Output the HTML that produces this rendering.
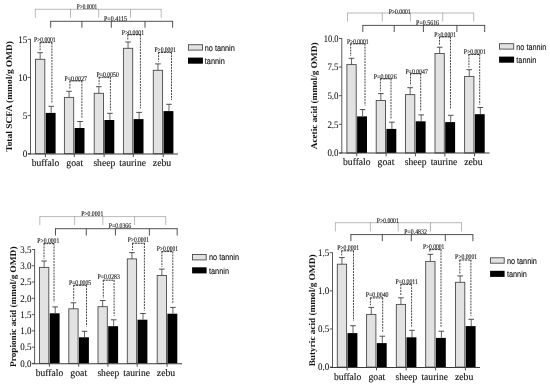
<!DOCTYPE html>
<html><head><meta charset="utf-8"><title>Figure</title>
<style>
html,body{margin:0;padding:0;background:#fff;}
body{width:550px;height:385px;overflow:hidden;}
svg{display:block;}
svg text{text-rendering:geometricPrecision;}
</style></head><body>
<svg width="550" height="385" viewBox="0 0 550 385">
<rect x="0" y="0" width="550" height="385" fill="#ffffff"/>
<line x1="35.30" y1="9.30" x2="161.20" y2="9.30" stroke="#8c8c8c" stroke-width="0.6" />
<line x1="35.30" y1="8.95" x2="35.30" y2="17.80" stroke="#8c8c8c" stroke-width="0.6" />
<line x1="70.50" y1="8.95" x2="70.50" y2="17.80" stroke="#8c8c8c" stroke-width="0.6" />
<line x1="98.70" y1="8.95" x2="98.70" y2="17.80" stroke="#8c8c8c" stroke-width="0.6" />
<line x1="130.50" y1="8.95" x2="130.50" y2="17.80" stroke="#8c8c8c" stroke-width="0.6" />
<line x1="161.20" y1="8.95" x2="161.20" y2="17.80" stroke="#8c8c8c" stroke-width="0.6" />
<line x1="50.25" y1="21.30" x2="173.05" y2="21.30" stroke="#333333" stroke-width="0.85" />
<line x1="50.70" y1="21.30" x2="50.70" y2="27.70" stroke="#333333" stroke-width="0.85" />
<line x1="81.90" y1="21.30" x2="81.90" y2="27.70" stroke="#333333" stroke-width="0.85" />
<line x1="111.30" y1="21.30" x2="111.30" y2="27.70" stroke="#333333" stroke-width="0.85" />
<line x1="145.00" y1="21.30" x2="145.00" y2="27.70" stroke="#333333" stroke-width="0.85" />
<line x1="172.60" y1="21.30" x2="172.60" y2="27.70" stroke="#333333" stroke-width="0.85" />
<text x="76.80" y="9.00" font-family='"Liberation Serif", serif' font-size="7.2" font-weight="normal" text-anchor="start" fill="#111" textLength="20.40" lengthAdjust="spacingAndGlyphs" stroke="#111" stroke-width="0.12">P&gt;0.0001</text>
<text x="104.00" y="20.50" font-family='"Liberation Serif", serif' font-size="7.2" font-weight="normal" text-anchor="start" fill="#111" textLength="22.90" lengthAdjust="spacingAndGlyphs" stroke="#111" stroke-width="0.12">P=0.4115</text>
<rect x="35.50" y="59.30" width="9.30" height="94.40" fill="#e2e2e2" stroke="#4a4a4a" stroke-width="0.9"/>
<line x1="40.15" y1="52.70" x2="40.15" y2="59.30" stroke="#3c3c3c" stroke-width="0.8" />
<line x1="37.35" y1="52.70" x2="42.95" y2="52.70" stroke="#3c3c3c" stroke-width="0.9" />
<rect x="45.70" y="112.90" width="9.90" height="40.80" fill="#000"/>
<line x1="51.20" y1="106.30" x2="51.20" y2="112.90" stroke="#3c3c3c" stroke-width="0.8" />
<line x1="48.40" y1="106.30" x2="54.00" y2="106.30" stroke="#3c3c3c" stroke-width="0.9" />
<line x1="40.10" y1="42.60" x2="40.10" y2="50.50" stroke="#3a3a3a" stroke-width="0.95" stroke-dasharray="1.9 1.0"/>
<line x1="51.90" y1="42.60" x2="51.90" y2="102.80" stroke="#3a3a3a" stroke-width="0.95" stroke-dasharray="1.9 1.0"/>
<line x1="39.70" y1="42.60" x2="52.30" y2="42.60" stroke="#2e2e2e" stroke-width="1.0" stroke-dasharray="2.1 0.7"/>
<text x="34.00" y="42.45" font-family='"Liberation Serif", serif' font-size="7.2" font-weight="normal" text-anchor="start" fill="#111" textLength="21.60" lengthAdjust="spacingAndGlyphs" stroke="#111" stroke-width="0.12">P&gt;0.0001</text>
<rect x="64.40" y="97.40" width="9.30" height="56.30" fill="#e2e2e2" stroke="#4a4a4a" stroke-width="0.9"/>
<line x1="69.05" y1="91.30" x2="69.05" y2="97.40" stroke="#3c3c3c" stroke-width="0.8" />
<line x1="66.25" y1="91.30" x2="71.85" y2="91.30" stroke="#3c3c3c" stroke-width="0.9" />
<rect x="74.60" y="128.00" width="9.90" height="25.70" fill="#000"/>
<line x1="80.10" y1="121.50" x2="80.10" y2="128.00" stroke="#3c3c3c" stroke-width="0.8" />
<line x1="77.30" y1="121.50" x2="82.90" y2="121.50" stroke="#3c3c3c" stroke-width="0.9" />
<line x1="69.90" y1="80.90" x2="69.90" y2="89.10" stroke="#3a3a3a" stroke-width="0.95" stroke-dasharray="1.9 1.0"/>
<line x1="81.90" y1="80.90" x2="81.90" y2="118.70" stroke="#3a3a3a" stroke-width="0.95" stroke-dasharray="1.9 1.0"/>
<line x1="69.50" y1="80.90" x2="82.30" y2="80.90" stroke="#2e2e2e" stroke-width="1.0" stroke-dasharray="2.1 0.7"/>
<text x="64.50" y="80.75" font-family='"Liberation Serif", serif' font-size="7.2" font-weight="normal" text-anchor="start" fill="#111" textLength="22.50" lengthAdjust="spacingAndGlyphs" stroke="#111" stroke-width="0.12">P=0.0027</text>
<rect x="94.20" y="93.30" width="9.30" height="60.40" fill="#e2e2e2" stroke="#4a4a4a" stroke-width="0.9"/>
<line x1="98.85" y1="86.70" x2="98.85" y2="93.30" stroke="#3c3c3c" stroke-width="0.8" />
<line x1="96.05" y1="86.70" x2="101.65" y2="86.70" stroke="#3c3c3c" stroke-width="0.9" />
<rect x="104.40" y="120.00" width="9.90" height="33.70" fill="#000"/>
<line x1="109.90" y1="113.30" x2="109.90" y2="120.00" stroke="#3c3c3c" stroke-width="0.8" />
<line x1="107.10" y1="113.30" x2="112.70" y2="113.30" stroke="#3c3c3c" stroke-width="0.9" />
<line x1="99.10" y1="77.30" x2="99.10" y2="84.50" stroke="#3a3a3a" stroke-width="0.95" stroke-dasharray="1.9 1.0"/>
<line x1="110.40" y1="77.30" x2="110.40" y2="110.50" stroke="#3a3a3a" stroke-width="0.95" stroke-dasharray="1.9 1.0"/>
<line x1="98.70" y1="77.30" x2="110.80" y2="77.30" stroke="#2e2e2e" stroke-width="1.0" stroke-dasharray="2.1 0.7"/>
<text x="96.50" y="77.15" font-family='"Liberation Serif", serif' font-size="7.2" font-weight="normal" text-anchor="start" fill="#111" textLength="22.30" lengthAdjust="spacingAndGlyphs" stroke="#111" stroke-width="0.12">P=0.0050</text>
<rect x="123.40" y="48.30" width="9.30" height="105.40" fill="#e2e2e2" stroke="#4a4a4a" stroke-width="0.9"/>
<line x1="128.05" y1="42.00" x2="128.05" y2="48.30" stroke="#3c3c3c" stroke-width="0.8" />
<line x1="125.25" y1="42.00" x2="130.85" y2="42.00" stroke="#3c3c3c" stroke-width="0.9" />
<rect x="133.60" y="119.10" width="9.90" height="34.60" fill="#000"/>
<line x1="139.10" y1="112.40" x2="139.10" y2="119.10" stroke="#3c3c3c" stroke-width="0.8" />
<line x1="136.30" y1="112.40" x2="141.90" y2="112.40" stroke="#3c3c3c" stroke-width="0.9" />
<line x1="127.80" y1="34.70" x2="127.80" y2="39.80" stroke="#3a3a3a" stroke-width="0.95" stroke-dasharray="1.9 1.0"/>
<line x1="140.40" y1="34.70" x2="140.40" y2="108.50" stroke="#3a3a3a" stroke-width="0.95" stroke-dasharray="1.9 1.0"/>
<line x1="127.40" y1="34.70" x2="140.80" y2="34.70" stroke="#2e2e2e" stroke-width="1.0" stroke-dasharray="2.1 0.7"/>
<text x="121.80" y="34.55" font-family='"Liberation Serif", serif' font-size="7.2" font-weight="normal" text-anchor="start" fill="#111" textLength="22.30" lengthAdjust="spacingAndGlyphs" stroke="#111" stroke-width="0.12">P&gt;0.0001</text>
<rect x="153.30" y="70.30" width="9.30" height="83.40" fill="#e2e2e2" stroke="#4a4a4a" stroke-width="0.9"/>
<line x1="157.95" y1="63.90" x2="157.95" y2="70.30" stroke="#3c3c3c" stroke-width="0.8" />
<line x1="155.15" y1="63.90" x2="160.75" y2="63.90" stroke="#3c3c3c" stroke-width="0.9" />
<rect x="163.50" y="111.10" width="9.90" height="42.60" fill="#000"/>
<line x1="169.00" y1="104.30" x2="169.00" y2="111.10" stroke="#3c3c3c" stroke-width="0.8" />
<line x1="166.20" y1="104.30" x2="171.80" y2="104.30" stroke="#3c3c3c" stroke-width="0.9" />
<line x1="158.60" y1="52.40" x2="158.60" y2="61.70" stroke="#3a3a3a" stroke-width="0.95" stroke-dasharray="1.9 1.0"/>
<line x1="171.50" y1="52.40" x2="171.50" y2="100.00" stroke="#3a3a3a" stroke-width="0.95" stroke-dasharray="1.9 1.0"/>
<line x1="158.20" y1="52.40" x2="171.90" y2="52.40" stroke="#2e2e2e" stroke-width="1.0" stroke-dasharray="2.1 0.7"/>
<text x="154.40" y="52.25" font-family='"Liberation Serif", serif' font-size="7.2" font-weight="normal" text-anchor="start" fill="#111" textLength="21.60" lengthAdjust="spacingAndGlyphs" stroke="#111" stroke-width="0.12">P&gt;0.0001</text>
<line x1="30.50" y1="38.90" x2="30.50" y2="154.10" stroke="#3c3c3c" stroke-width="0.85" />
<line x1="28.10" y1="153.90" x2="178.00" y2="153.90" stroke="#3c3c3c" stroke-width="1.05" />
<line x1="27.70" y1="39.30" x2="30.50" y2="39.30" stroke="#3c3c3c" stroke-width="0.85" />
<text x="27.30" y="42.60" font-family='"Liberation Serif", serif' font-size="10" font-weight="normal" text-anchor="end" fill="#111" textLength="9.00" lengthAdjust="spacingAndGlyphs" stroke="#111" stroke-width="0.06">15</text>
<line x1="27.70" y1="77.43" x2="30.50" y2="77.43" stroke="#3c3c3c" stroke-width="0.85" />
<text x="27.30" y="80.73" font-family='"Liberation Serif", serif' font-size="10" font-weight="normal" text-anchor="end" fill="#111" textLength="9.00" lengthAdjust="spacingAndGlyphs" stroke="#111" stroke-width="0.06">10</text>
<line x1="27.70" y1="115.57" x2="30.50" y2="115.57" stroke="#3c3c3c" stroke-width="0.85" />
<text x="27.30" y="118.87" font-family='"Liberation Serif", serif' font-size="10" font-weight="normal" text-anchor="end" fill="#111" textLength="4.60" lengthAdjust="spacingAndGlyphs" stroke="#111" stroke-width="0.06">5</text>
<line x1="27.70" y1="153.70" x2="30.50" y2="153.70" stroke="#3c3c3c" stroke-width="0.85" />
<text x="27.30" y="157.00" font-family='"Liberation Serif", serif' font-size="10" font-weight="normal" text-anchor="end" fill="#111" textLength="4.60" lengthAdjust="spacingAndGlyphs" stroke="#111" stroke-width="0.06">0</text>
<line x1="45.40" y1="153.70" x2="45.40" y2="157.00" stroke="#3c3c3c" stroke-width="0.9" />
<text x="45.50" y="166.10" font-family='"Liberation Serif", serif' font-size="10.0" font-weight="normal" text-anchor="middle" fill="#111" textLength="27.40" lengthAdjust="spacingAndGlyphs" stroke="#111" stroke-width="0.12">buffalo</text>
<line x1="74.30" y1="153.70" x2="74.30" y2="157.00" stroke="#3c3c3c" stroke-width="0.9" />
<text x="74.70" y="166.10" font-family='"Liberation Serif", serif' font-size="10.0" font-weight="normal" text-anchor="middle" fill="#111" textLength="16.80" lengthAdjust="spacingAndGlyphs" stroke="#111" stroke-width="0.12">goat</text>
<line x1="104.10" y1="153.70" x2="104.10" y2="157.00" stroke="#3c3c3c" stroke-width="0.9" />
<text x="104.30" y="166.10" font-family='"Liberation Serif", serif' font-size="10.0" font-weight="normal" text-anchor="middle" fill="#111" textLength="21.80" lengthAdjust="spacingAndGlyphs" stroke="#111" stroke-width="0.12">sheep</text>
<line x1="133.30" y1="153.70" x2="133.30" y2="157.00" stroke="#3c3c3c" stroke-width="0.9" />
<text x="132.65" y="166.10" font-family='"Liberation Serif", serif' font-size="10.0" font-weight="normal" text-anchor="middle" fill="#111" textLength="26.60" lengthAdjust="spacingAndGlyphs" stroke="#111" stroke-width="0.12">taurine</text>
<line x1="163.20" y1="153.70" x2="163.20" y2="157.00" stroke="#3c3c3c" stroke-width="0.9" />
<text x="162.05" y="166.10" font-family='"Liberation Serif", serif' font-size="10.0" font-weight="normal" text-anchor="middle" fill="#111" textLength="18.40" lengthAdjust="spacingAndGlyphs" stroke="#111" stroke-width="0.12">zebu</text>
<text transform="translate(12.10 151.80) rotate(-90) scale(1 0.88)" x="0" y="0" font-family='"Liberation Serif", serif' font-size="10" font-weight="bold" fill="#111" textLength="82.50" lengthAdjust="spacingAndGlyphs">Total SCFA (mmol/g</text>
<text transform="translate(12.10 67.30) rotate(-90) scale(1 0.88)" x="0" y="0" font-family='"Liberation Serif", serif' font-size="10" font-weight="bold" fill="#111" textLength="26.3" lengthAdjust="spacingAndGlyphs">OMD)</text>
<rect x="188.40" y="44.70" width="14.10" height="5.40" fill="#e2e2e2" stroke="#4a4a4a" stroke-width="0.9"/>
<rect x="188.00" y="57.60" width="14.90" height="6.10" fill="#000"/>
<text x="204.80" y="50.60" font-family='"Liberation Sans", sans-serif' font-size="8.7" font-weight="normal" text-anchor="start" fill="#111" textLength="30.00" lengthAdjust="spacingAndGlyphs" stroke="#111" stroke-width="0.12">no tannin</text>
<text x="204.80" y="63.90" font-family='"Liberation Sans", sans-serif' font-size="8.7" font-weight="normal" text-anchor="start" fill="#111" textLength="20.00" lengthAdjust="spacingAndGlyphs" stroke="#111" stroke-width="0.12">tannin</text>
<line x1="347.50" y1="13.00" x2="473.70" y2="13.00" stroke="#8c8c8c" stroke-width="0.6" />
<line x1="347.50" y1="12.65" x2="347.50" y2="21.60" stroke="#8c8c8c" stroke-width="0.6" />
<line x1="382.30" y1="12.65" x2="382.30" y2="21.60" stroke="#8c8c8c" stroke-width="0.6" />
<line x1="410.50" y1="12.65" x2="410.50" y2="21.60" stroke="#8c8c8c" stroke-width="0.6" />
<line x1="442.70" y1="12.65" x2="442.70" y2="21.60" stroke="#8c8c8c" stroke-width="0.6" />
<line x1="473.70" y1="12.65" x2="473.70" y2="21.60" stroke="#8c8c8c" stroke-width="0.6" />
<line x1="362.35" y1="25.40" x2="485.15" y2="25.40" stroke="#333333" stroke-width="0.85" />
<line x1="362.80" y1="25.40" x2="362.80" y2="32.00" stroke="#333333" stroke-width="0.85" />
<line x1="394.20" y1="25.40" x2="394.20" y2="32.00" stroke="#333333" stroke-width="0.85" />
<line x1="423.40" y1="25.40" x2="423.40" y2="32.00" stroke="#333333" stroke-width="0.85" />
<line x1="456.90" y1="25.40" x2="456.90" y2="32.00" stroke="#333333" stroke-width="0.85" />
<line x1="484.70" y1="25.40" x2="484.70" y2="32.00" stroke="#333333" stroke-width="0.85" />
<text x="388.70" y="13.90" font-family='"Liberation Serif", serif' font-size="7.2" font-weight="normal" text-anchor="start" fill="#111" textLength="22.00" lengthAdjust="spacingAndGlyphs" stroke="#111" stroke-width="0.12">P&gt;0.0001</text>
<text x="416.10" y="24.90" font-family='"Liberation Serif", serif' font-size="7.2" font-weight="normal" text-anchor="start" fill="#111" textLength="23.00" lengthAdjust="spacingAndGlyphs" stroke="#111" stroke-width="0.12">P=0.5616</text>
<rect x="346.90" y="64.60" width="9.30" height="88.40" fill="#e2e2e2" stroke="#4a4a4a" stroke-width="0.9"/>
<line x1="351.55" y1="58.30" x2="351.55" y2="64.60" stroke="#3c3c3c" stroke-width="0.8" />
<line x1="348.75" y1="58.30" x2="354.35" y2="58.30" stroke="#3c3c3c" stroke-width="0.9" />
<rect x="357.10" y="116.40" width="9.90" height="36.60" fill="#000"/>
<line x1="362.60" y1="109.60" x2="362.60" y2="116.40" stroke="#3c3c3c" stroke-width="0.8" />
<line x1="359.80" y1="109.60" x2="365.40" y2="109.60" stroke="#3c3c3c" stroke-width="0.9" />
<line x1="350.70" y1="43.80" x2="350.70" y2="56.10" stroke="#3a3a3a" stroke-width="0.95" stroke-dasharray="1.9 1.0"/>
<line x1="365.00" y1="43.80" x2="365.00" y2="105.50" stroke="#3a3a3a" stroke-width="0.95" stroke-dasharray="1.9 1.0"/>
<line x1="350.30" y1="43.80" x2="365.40" y2="43.80" stroke="#2e2e2e" stroke-width="1.0" stroke-dasharray="2.1 0.7"/>
<text x="346.90" y="43.65" font-family='"Liberation Serif", serif' font-size="7.2" font-weight="normal" text-anchor="start" fill="#111" textLength="21.60" lengthAdjust="spacingAndGlyphs" stroke="#111" stroke-width="0.12">P&gt;0.0001</text>
<rect x="376.20" y="100.50" width="9.30" height="52.50" fill="#e2e2e2" stroke="#4a4a4a" stroke-width="0.9"/>
<line x1="380.85" y1="93.60" x2="380.85" y2="100.50" stroke="#3c3c3c" stroke-width="0.8" />
<line x1="378.05" y1="93.60" x2="383.65" y2="93.60" stroke="#3c3c3c" stroke-width="0.9" />
<rect x="386.40" y="128.90" width="9.90" height="24.10" fill="#000"/>
<line x1="391.90" y1="122.20" x2="391.90" y2="128.90" stroke="#3c3c3c" stroke-width="0.8" />
<line x1="389.10" y1="122.20" x2="394.70" y2="122.20" stroke="#3c3c3c" stroke-width="0.9" />
<line x1="380.40" y1="78.80" x2="380.40" y2="91.40" stroke="#3a3a3a" stroke-width="0.95" stroke-dasharray="1.9 1.0"/>
<line x1="391.00" y1="78.80" x2="391.00" y2="119.00" stroke="#3a3a3a" stroke-width="0.95" stroke-dasharray="1.9 1.0"/>
<line x1="380.00" y1="78.80" x2="391.40" y2="78.80" stroke="#2e2e2e" stroke-width="1.0" stroke-dasharray="2.1 0.7"/>
<text x="373.80" y="78.65" font-family='"Liberation Serif", serif' font-size="7.2" font-weight="normal" text-anchor="start" fill="#111" textLength="22.90" lengthAdjust="spacingAndGlyphs" stroke="#111" stroke-width="0.12">P=0.0026</text>
<rect x="405.50" y="94.60" width="9.30" height="58.40" fill="#e2e2e2" stroke="#4a4a4a" stroke-width="0.9"/>
<line x1="410.15" y1="87.70" x2="410.15" y2="94.60" stroke="#3c3c3c" stroke-width="0.8" />
<line x1="407.35" y1="87.70" x2="412.95" y2="87.70" stroke="#3c3c3c" stroke-width="0.9" />
<rect x="415.70" y="121.30" width="9.90" height="31.70" fill="#000"/>
<line x1="421.20" y1="114.90" x2="421.20" y2="121.30" stroke="#3c3c3c" stroke-width="0.8" />
<line x1="418.40" y1="114.90" x2="424.00" y2="114.90" stroke="#3c3c3c" stroke-width="0.9" />
<line x1="410.50" y1="73.70" x2="410.50" y2="85.50" stroke="#3a3a3a" stroke-width="0.95" stroke-dasharray="1.9 1.0"/>
<line x1="420.70" y1="73.70" x2="420.70" y2="111.50" stroke="#3a3a3a" stroke-width="0.95" stroke-dasharray="1.9 1.0"/>
<line x1="410.10" y1="73.70" x2="421.10" y2="73.70" stroke="#2e2e2e" stroke-width="1.0" stroke-dasharray="2.1 0.7"/>
<text x="405.40" y="73.55" font-family='"Liberation Serif", serif' font-size="7.2" font-weight="normal" text-anchor="start" fill="#111" textLength="22.50" lengthAdjust="spacingAndGlyphs" stroke="#111" stroke-width="0.12">P=0.0047</text>
<rect x="435.00" y="53.50" width="9.30" height="99.50" fill="#e2e2e2" stroke="#4a4a4a" stroke-width="0.9"/>
<line x1="439.65" y1="47.20" x2="439.65" y2="53.50" stroke="#3c3c3c" stroke-width="0.8" />
<line x1="436.85" y1="47.20" x2="442.45" y2="47.20" stroke="#3c3c3c" stroke-width="0.9" />
<rect x="445.20" y="122.10" width="9.90" height="30.90" fill="#000"/>
<line x1="450.70" y1="115.30" x2="450.70" y2="122.10" stroke="#3c3c3c" stroke-width="0.8" />
<line x1="447.90" y1="115.30" x2="453.50" y2="115.30" stroke="#3c3c3c" stroke-width="0.9" />
<line x1="439.50" y1="36.90" x2="439.50" y2="45.00" stroke="#3a3a3a" stroke-width="0.95" stroke-dasharray="1.9 1.0"/>
<line x1="450.50" y1="36.90" x2="450.50" y2="108.70" stroke="#3a3a3a" stroke-width="0.95" stroke-dasharray="1.9 1.0"/>
<line x1="439.10" y1="36.90" x2="450.90" y2="36.90" stroke="#2e2e2e" stroke-width="1.0" stroke-dasharray="2.1 0.7"/>
<text x="434.20" y="36.75" font-family='"Liberation Serif", serif' font-size="7.2" font-weight="normal" text-anchor="start" fill="#111" textLength="21.60" lengthAdjust="spacingAndGlyphs" stroke="#111" stroke-width="0.12">P&gt;0.0001</text>
<rect x="464.60" y="76.40" width="9.30" height="76.60" fill="#e2e2e2" stroke="#4a4a4a" stroke-width="0.9"/>
<line x1="469.25" y1="69.70" x2="469.25" y2="76.40" stroke="#3c3c3c" stroke-width="0.8" />
<line x1="466.45" y1="69.70" x2="472.05" y2="69.70" stroke="#3c3c3c" stroke-width="0.9" />
<rect x="474.80" y="114.20" width="9.90" height="38.80" fill="#000"/>
<line x1="480.30" y1="107.50" x2="480.30" y2="114.20" stroke="#3c3c3c" stroke-width="0.8" />
<line x1="477.50" y1="107.50" x2="483.10" y2="107.50" stroke="#3c3c3c" stroke-width="0.9" />
<line x1="468.90" y1="54.50" x2="468.90" y2="67.50" stroke="#3a3a3a" stroke-width="0.95" stroke-dasharray="1.9 1.0"/>
<line x1="479.70" y1="54.50" x2="479.70" y2="104.50" stroke="#3a3a3a" stroke-width="0.95" stroke-dasharray="1.9 1.0"/>
<line x1="468.50" y1="54.50" x2="480.10" y2="54.50" stroke="#2e2e2e" stroke-width="1.0" stroke-dasharray="2.1 0.7"/>
<text x="463.80" y="54.35" font-family='"Liberation Serif", serif' font-size="7.2" font-weight="normal" text-anchor="start" fill="#111" textLength="22.00" lengthAdjust="spacingAndGlyphs" stroke="#111" stroke-width="0.12">P&gt;0.0001</text>
<line x1="341.80" y1="38.00" x2="341.80" y2="153.40" stroke="#3c3c3c" stroke-width="0.85" />
<line x1="339.40" y1="152.90" x2="489.60" y2="152.90" stroke="#3c3c3c" stroke-width="1.05" />
<line x1="339.00" y1="38.40" x2="341.80" y2="38.40" stroke="#3c3c3c" stroke-width="0.85" />
<text x="338.60" y="41.70" font-family='"Liberation Serif", serif' font-size="10" font-weight="normal" text-anchor="end" fill="#111" textLength="14.80" lengthAdjust="spacingAndGlyphs" stroke="#111" stroke-width="0.06">10.0</text>
<line x1="339.00" y1="67.05" x2="341.80" y2="67.05" stroke="#3c3c3c" stroke-width="0.85" />
<text x="338.60" y="70.35" font-family='"Liberation Serif", serif' font-size="10" font-weight="normal" text-anchor="end" fill="#111" textLength="11.20" lengthAdjust="spacingAndGlyphs" stroke="#111" stroke-width="0.06">7.5</text>
<line x1="339.00" y1="95.70" x2="341.80" y2="95.70" stroke="#3c3c3c" stroke-width="0.85" />
<text x="338.60" y="99.00" font-family='"Liberation Serif", serif' font-size="10" font-weight="normal" text-anchor="end" fill="#111" textLength="11.20" lengthAdjust="spacingAndGlyphs" stroke="#111" stroke-width="0.06">5.0</text>
<line x1="339.00" y1="124.35" x2="341.80" y2="124.35" stroke="#3c3c3c" stroke-width="0.85" />
<text x="338.60" y="127.65" font-family='"Liberation Serif", serif' font-size="10" font-weight="normal" text-anchor="end" fill="#111" textLength="11.20" lengthAdjust="spacingAndGlyphs" stroke="#111" stroke-width="0.06">2.5</text>
<line x1="339.00" y1="153.00" x2="341.80" y2="153.00" stroke="#3c3c3c" stroke-width="0.85" />
<text x="338.60" y="156.30" font-family='"Liberation Serif", serif' font-size="10" font-weight="normal" text-anchor="end" fill="#111" textLength="11.20" lengthAdjust="spacingAndGlyphs" stroke="#111" stroke-width="0.06">0.0</text>
<line x1="356.80" y1="153.00" x2="356.80" y2="156.30" stroke="#3c3c3c" stroke-width="0.9" />
<text x="356.80" y="164.80" font-family='"Liberation Serif", serif' font-size="10.0" font-weight="normal" text-anchor="middle" fill="#111" textLength="27.40" lengthAdjust="spacingAndGlyphs" stroke="#111" stroke-width="0.12">buffalo</text>
<line x1="386.10" y1="153.00" x2="386.10" y2="156.30" stroke="#3c3c3c" stroke-width="0.9" />
<text x="386.00" y="164.80" font-family='"Liberation Serif", serif' font-size="10.0" font-weight="normal" text-anchor="middle" fill="#111" textLength="16.80" lengthAdjust="spacingAndGlyphs" stroke="#111" stroke-width="0.12">goat</text>
<line x1="415.40" y1="153.00" x2="415.40" y2="156.30" stroke="#3c3c3c" stroke-width="0.9" />
<text x="415.60" y="164.80" font-family='"Liberation Serif", serif' font-size="10.0" font-weight="normal" text-anchor="middle" fill="#111" textLength="21.80" lengthAdjust="spacingAndGlyphs" stroke="#111" stroke-width="0.12">sheep</text>
<line x1="444.90" y1="153.00" x2="444.90" y2="156.30" stroke="#3c3c3c" stroke-width="0.9" />
<text x="443.95" y="164.80" font-family='"Liberation Serif", serif' font-size="10.0" font-weight="normal" text-anchor="middle" fill="#111" textLength="26.60" lengthAdjust="spacingAndGlyphs" stroke="#111" stroke-width="0.12">taurine</text>
<line x1="474.50" y1="153.00" x2="474.50" y2="156.30" stroke="#3c3c3c" stroke-width="0.9" />
<text x="473.35" y="164.80" font-family='"Liberation Serif", serif' font-size="10.0" font-weight="normal" text-anchor="middle" fill="#111" textLength="18.40" lengthAdjust="spacingAndGlyphs" stroke="#111" stroke-width="0.12">zebu</text>
<text transform="translate(317.20 149.30) rotate(-90) scale(1 0.88)" x="0" y="0" font-family='"Liberation Serif", serif' font-size="10" font-weight="bold" fill="#111" textLength="78.70" lengthAdjust="spacingAndGlyphs">Acetic acid (mmol/g</text>
<text transform="translate(317.20 68.60) rotate(-90) scale(1 0.88)" x="0" y="0" font-family='"Liberation Serif", serif' font-size="10" font-weight="bold" fill="#111" textLength="26.3" lengthAdjust="spacingAndGlyphs">OMD)</text>
<rect x="499.50" y="43.70" width="14.20" height="5.40" fill="#e2e2e2" stroke="#4a4a4a" stroke-width="0.9"/>
<rect x="499.10" y="56.60" width="15.00" height="6.10" fill="#000"/>
<text x="516.30" y="49.60" font-family='"Liberation Sans", sans-serif' font-size="8.7" font-weight="normal" text-anchor="start" fill="#111" textLength="30.00" lengthAdjust="spacingAndGlyphs" stroke="#111" stroke-width="0.12">no tannin</text>
<text x="516.30" y="62.90" font-family='"Liberation Sans", sans-serif' font-size="8.7" font-weight="normal" text-anchor="start" fill="#111" textLength="20.00" lengthAdjust="spacingAndGlyphs" stroke="#111" stroke-width="0.12">tannin</text>
<line x1="39.80" y1="216.60" x2="165.70" y2="216.60" stroke="#8c8c8c" stroke-width="0.6" />
<line x1="39.80" y1="216.25" x2="39.80" y2="225.10" stroke="#8c8c8c" stroke-width="0.6" />
<line x1="74.60" y1="216.25" x2="74.60" y2="225.10" stroke="#8c8c8c" stroke-width="0.6" />
<line x1="102.80" y1="216.25" x2="102.80" y2="225.10" stroke="#8c8c8c" stroke-width="0.6" />
<line x1="134.60" y1="216.25" x2="134.60" y2="225.10" stroke="#8c8c8c" stroke-width="0.6" />
<line x1="165.70" y1="216.25" x2="165.70" y2="225.10" stroke="#8c8c8c" stroke-width="0.6" />
<line x1="55.05" y1="228.70" x2="177.65" y2="228.70" stroke="#333333" stroke-width="0.85" />
<line x1="55.50" y1="228.70" x2="55.50" y2="235.50" stroke="#333333" stroke-width="0.85" />
<line x1="86.30" y1="228.70" x2="86.30" y2="235.50" stroke="#333333" stroke-width="0.85" />
<line x1="115.40" y1="228.70" x2="115.40" y2="235.50" stroke="#333333" stroke-width="0.85" />
<line x1="149.40" y1="228.70" x2="149.40" y2="235.50" stroke="#333333" stroke-width="0.85" />
<line x1="177.20" y1="228.70" x2="177.20" y2="235.50" stroke="#333333" stroke-width="0.85" />
<text x="81.20" y="216.30" font-family='"Liberation Serif", serif' font-size="7.2" font-weight="normal" text-anchor="start" fill="#111" textLength="22.10" lengthAdjust="spacingAndGlyphs" stroke="#111" stroke-width="0.12">P&gt;0.0001</text>
<text x="108.80" y="228.30" font-family='"Liberation Serif", serif' font-size="7.2" font-weight="normal" text-anchor="start" fill="#111" textLength="22.30" lengthAdjust="spacingAndGlyphs" stroke="#111" stroke-width="0.12">P=0.0366</text>
<rect x="39.50" y="267.40" width="9.30" height="96.00" fill="#e2e2e2" stroke="#4a4a4a" stroke-width="0.9"/>
<line x1="44.15" y1="261.00" x2="44.15" y2="267.40" stroke="#3c3c3c" stroke-width="0.8" />
<line x1="41.35" y1="261.00" x2="46.95" y2="261.00" stroke="#3c3c3c" stroke-width="0.9" />
<rect x="49.70" y="313.30" width="9.90" height="50.10" fill="#000"/>
<line x1="55.20" y1="306.90" x2="55.20" y2="313.30" stroke="#3c3c3c" stroke-width="0.8" />
<line x1="52.40" y1="306.90" x2="58.00" y2="306.90" stroke="#3c3c3c" stroke-width="0.9" />
<line x1="44.00" y1="243.60" x2="44.00" y2="258.80" stroke="#3a3a3a" stroke-width="0.95" stroke-dasharray="1.9 1.0"/>
<line x1="54.00" y1="243.60" x2="54.00" y2="302.20" stroke="#3a3a3a" stroke-width="0.95" stroke-dasharray="1.9 1.0"/>
<line x1="43.60" y1="243.60" x2="54.40" y2="243.60" stroke="#2e2e2e" stroke-width="1.0" stroke-dasharray="2.1 0.7"/>
<text x="37.30" y="242.80" font-family='"Liberation Serif", serif' font-size="7.2" font-weight="normal" text-anchor="start" fill="#111" textLength="22.00" lengthAdjust="spacingAndGlyphs" stroke="#111" stroke-width="0.12">P&gt;0.0001</text>
<rect x="68.80" y="308.80" width="9.30" height="54.60" fill="#e2e2e2" stroke="#4a4a4a" stroke-width="0.9"/>
<line x1="73.45" y1="302.80" x2="73.45" y2="308.80" stroke="#3c3c3c" stroke-width="0.8" />
<line x1="70.65" y1="302.80" x2="76.25" y2="302.80" stroke="#3c3c3c" stroke-width="0.9" />
<rect x="79.00" y="337.30" width="9.90" height="26.10" fill="#000"/>
<line x1="84.50" y1="331.30" x2="84.50" y2="337.30" stroke="#3c3c3c" stroke-width="0.8" />
<line x1="81.70" y1="331.30" x2="87.30" y2="331.30" stroke="#3c3c3c" stroke-width="0.9" />
<line x1="73.70" y1="285.30" x2="73.70" y2="300.60" stroke="#3a3a3a" stroke-width="0.95" stroke-dasharray="1.9 1.0"/>
<line x1="86.50" y1="285.30" x2="86.50" y2="326.50" stroke="#3a3a3a" stroke-width="0.95" stroke-dasharray="1.9 1.0"/>
<line x1="73.30" y1="285.30" x2="86.90" y2="285.30" stroke="#2e2e2e" stroke-width="1.0" stroke-dasharray="2.1 0.7"/>
<text x="68.90" y="284.50" font-family='"Liberation Serif", serif' font-size="7.2" font-weight="normal" text-anchor="start" fill="#111" textLength="22.30" lengthAdjust="spacingAndGlyphs" stroke="#111" stroke-width="0.12">P=0.0005</text>
<rect x="98.00" y="306.70" width="9.30" height="56.70" fill="#e2e2e2" stroke="#4a4a4a" stroke-width="0.9"/>
<line x1="102.65" y1="300.50" x2="102.65" y2="306.70" stroke="#3c3c3c" stroke-width="0.8" />
<line x1="99.85" y1="300.50" x2="105.45" y2="300.50" stroke="#3c3c3c" stroke-width="0.9" />
<rect x="108.20" y="326.20" width="9.90" height="37.20" fill="#000"/>
<line x1="113.70" y1="319.80" x2="113.70" y2="326.20" stroke="#3c3c3c" stroke-width="0.8" />
<line x1="110.90" y1="319.80" x2="116.50" y2="319.80" stroke="#3c3c3c" stroke-width="0.9" />
<line x1="103.30" y1="280.20" x2="103.30" y2="298.30" stroke="#3a3a3a" stroke-width="0.95" stroke-dasharray="1.9 1.0"/>
<line x1="114.10" y1="280.20" x2="114.10" y2="315.80" stroke="#3a3a3a" stroke-width="0.95" stroke-dasharray="1.9 1.0"/>
<line x1="102.90" y1="280.20" x2="114.50" y2="280.20" stroke="#2e2e2e" stroke-width="1.0" stroke-dasharray="2.1 0.7"/>
<text x="97.50" y="279.40" font-family='"Liberation Serif", serif' font-size="7.2" font-weight="normal" text-anchor="start" fill="#111" textLength="22.30" lengthAdjust="spacingAndGlyphs" stroke="#111" stroke-width="0.12">P=0.0283</text>
<rect x="127.30" y="258.90" width="9.30" height="104.50" fill="#e2e2e2" stroke="#4a4a4a" stroke-width="0.9"/>
<line x1="131.95" y1="252.60" x2="131.95" y2="258.90" stroke="#3c3c3c" stroke-width="0.8" />
<line x1="129.15" y1="252.60" x2="134.75" y2="252.60" stroke="#3c3c3c" stroke-width="0.9" />
<rect x="137.50" y="319.70" width="9.90" height="43.70" fill="#000"/>
<line x1="143.00" y1="313.50" x2="143.00" y2="319.70" stroke="#3c3c3c" stroke-width="0.8" />
<line x1="140.20" y1="313.50" x2="145.80" y2="313.50" stroke="#3c3c3c" stroke-width="0.9" />
<line x1="132.50" y1="243.20" x2="132.50" y2="250.40" stroke="#3a3a3a" stroke-width="0.95" stroke-dasharray="1.9 1.0"/>
<line x1="144.40" y1="243.20" x2="144.40" y2="310.50" stroke="#3a3a3a" stroke-width="0.95" stroke-dasharray="1.9 1.0"/>
<line x1="132.10" y1="243.20" x2="144.80" y2="243.20" stroke="#2e2e2e" stroke-width="1.0" stroke-dasharray="2.1 0.7"/>
<text x="127.80" y="242.40" font-family='"Liberation Serif", serif' font-size="7.2" font-weight="normal" text-anchor="start" fill="#111" textLength="21.20" lengthAdjust="spacingAndGlyphs" stroke="#111" stroke-width="0.12">P&gt;0.0001</text>
<rect x="157.20" y="275.50" width="9.30" height="87.90" fill="#e2e2e2" stroke="#4a4a4a" stroke-width="0.9"/>
<line x1="161.85" y1="269.10" x2="161.85" y2="275.50" stroke="#3c3c3c" stroke-width="0.8" />
<line x1="159.05" y1="269.10" x2="164.65" y2="269.10" stroke="#3c3c3c" stroke-width="0.9" />
<rect x="167.40" y="313.70" width="9.90" height="49.70" fill="#000"/>
<line x1="172.90" y1="307.40" x2="172.90" y2="313.70" stroke="#3c3c3c" stroke-width="0.8" />
<line x1="170.10" y1="307.40" x2="175.70" y2="307.40" stroke="#3c3c3c" stroke-width="0.9" />
<line x1="161.90" y1="251.60" x2="161.90" y2="266.90" stroke="#3a3a3a" stroke-width="0.95" stroke-dasharray="1.9 1.0"/>
<line x1="172.80" y1="251.60" x2="172.80" y2="303.50" stroke="#3a3a3a" stroke-width="0.95" stroke-dasharray="1.9 1.0"/>
<line x1="161.50" y1="251.60" x2="173.20" y2="251.60" stroke="#2e2e2e" stroke-width="1.0" stroke-dasharray="2.1 0.7"/>
<text x="156.80" y="250.80" font-family='"Liberation Serif", serif' font-size="7.2" font-weight="normal" text-anchor="start" fill="#111" textLength="21.30" lengthAdjust="spacingAndGlyphs" stroke="#111" stroke-width="0.12">P&gt;0.0001</text>
<line x1="34.60" y1="249.10" x2="34.60" y2="363.80" stroke="#3c3c3c" stroke-width="0.85" />
<line x1="32.20" y1="363.80" x2="182.10" y2="363.80" stroke="#3c3c3c" stroke-width="1.05" />
<line x1="31.80" y1="249.50" x2="34.60" y2="249.50" stroke="#3c3c3c" stroke-width="0.85" />
<text x="31.40" y="252.80" font-family='"Liberation Serif", serif' font-size="10" font-weight="normal" text-anchor="end" fill="#111" textLength="11.20" lengthAdjust="spacingAndGlyphs" stroke="#111" stroke-width="0.06">3.5</text>
<line x1="31.80" y1="265.77" x2="34.60" y2="265.77" stroke="#3c3c3c" stroke-width="0.85" />
<text x="31.40" y="269.07" font-family='"Liberation Serif", serif' font-size="10" font-weight="normal" text-anchor="end" fill="#111" textLength="11.20" lengthAdjust="spacingAndGlyphs" stroke="#111" stroke-width="0.06">3.0</text>
<line x1="31.80" y1="282.04" x2="34.60" y2="282.04" stroke="#3c3c3c" stroke-width="0.85" />
<text x="31.40" y="285.34" font-family='"Liberation Serif", serif' font-size="10" font-weight="normal" text-anchor="end" fill="#111" textLength="11.20" lengthAdjust="spacingAndGlyphs" stroke="#111" stroke-width="0.06">2.5</text>
<line x1="31.80" y1="298.31" x2="34.60" y2="298.31" stroke="#3c3c3c" stroke-width="0.85" />
<text x="31.40" y="301.61" font-family='"Liberation Serif", serif' font-size="10" font-weight="normal" text-anchor="end" fill="#111" textLength="11.20" lengthAdjust="spacingAndGlyphs" stroke="#111" stroke-width="0.06">2.0</text>
<line x1="31.80" y1="314.59" x2="34.60" y2="314.59" stroke="#3c3c3c" stroke-width="0.85" />
<text x="31.40" y="317.89" font-family='"Liberation Serif", serif' font-size="10" font-weight="normal" text-anchor="end" fill="#111" textLength="11.20" lengthAdjust="spacingAndGlyphs" stroke="#111" stroke-width="0.06">1.5</text>
<line x1="31.80" y1="330.86" x2="34.60" y2="330.86" stroke="#3c3c3c" stroke-width="0.85" />
<text x="31.40" y="334.16" font-family='"Liberation Serif", serif' font-size="10" font-weight="normal" text-anchor="end" fill="#111" textLength="11.20" lengthAdjust="spacingAndGlyphs" stroke="#111" stroke-width="0.06">1.0</text>
<line x1="31.80" y1="347.13" x2="34.60" y2="347.13" stroke="#3c3c3c" stroke-width="0.85" />
<text x="31.40" y="350.43" font-family='"Liberation Serif", serif' font-size="10" font-weight="normal" text-anchor="end" fill="#111" textLength="11.20" lengthAdjust="spacingAndGlyphs" stroke="#111" stroke-width="0.06">0.5</text>
<line x1="31.80" y1="363.40" x2="34.60" y2="363.40" stroke="#3c3c3c" stroke-width="0.85" />
<text x="31.40" y="366.70" font-family='"Liberation Serif", serif' font-size="10" font-weight="normal" text-anchor="end" fill="#111" textLength="11.20" lengthAdjust="spacingAndGlyphs" stroke="#111" stroke-width="0.06">0.0</text>
<line x1="49.40" y1="363.40" x2="49.40" y2="366.70" stroke="#3c3c3c" stroke-width="0.9" />
<text x="49.50" y="375.60" font-family='"Liberation Serif", serif' font-size="10.0" font-weight="normal" text-anchor="middle" fill="#111" textLength="27.40" lengthAdjust="spacingAndGlyphs" stroke="#111" stroke-width="0.12">buffalo</text>
<line x1="78.70" y1="363.40" x2="78.70" y2="366.70" stroke="#3c3c3c" stroke-width="0.9" />
<text x="78.70" y="375.60" font-family='"Liberation Serif", serif' font-size="10.0" font-weight="normal" text-anchor="middle" fill="#111" textLength="16.80" lengthAdjust="spacingAndGlyphs" stroke="#111" stroke-width="0.12">goat</text>
<line x1="107.90" y1="363.40" x2="107.90" y2="366.70" stroke="#3c3c3c" stroke-width="0.9" />
<text x="108.30" y="375.60" font-family='"Liberation Serif", serif' font-size="10.0" font-weight="normal" text-anchor="middle" fill="#111" textLength="21.80" lengthAdjust="spacingAndGlyphs" stroke="#111" stroke-width="0.12">sheep</text>
<line x1="137.20" y1="363.40" x2="137.20" y2="366.70" stroke="#3c3c3c" stroke-width="0.9" />
<text x="136.65" y="375.60" font-family='"Liberation Serif", serif' font-size="10.0" font-weight="normal" text-anchor="middle" fill="#111" textLength="26.60" lengthAdjust="spacingAndGlyphs" stroke="#111" stroke-width="0.12">taurine</text>
<line x1="167.10" y1="363.40" x2="167.10" y2="366.70" stroke="#3c3c3c" stroke-width="0.9" />
<text x="166.05" y="375.60" font-family='"Liberation Serif", serif' font-size="10.0" font-weight="normal" text-anchor="middle" fill="#111" textLength="18.40" lengthAdjust="spacingAndGlyphs" stroke="#111" stroke-width="0.12">zebu</text>
<text transform="translate(16.00 366.90) rotate(-90) scale(1 0.88)" x="0" y="0" font-family='"Liberation Serif", serif' font-size="10" font-weight="bold" fill="#111" textLength="92.20" lengthAdjust="spacingAndGlyphs">Propionic acid (mmol/g</text>
<text transform="translate(16.00 272.70) rotate(-90) scale(1 0.88)" x="0" y="0" font-family='"Liberation Serif", serif' font-size="10" font-weight="bold" fill="#111" textLength="26.3" lengthAdjust="spacingAndGlyphs">OMD)</text>
<rect x="192.50" y="254.50" width="13.70" height="5.40" fill="#e2e2e2" stroke="#4a4a4a" stroke-width="0.9"/>
<rect x="192.10" y="267.30" width="14.50" height="6.10" fill="#000"/>
<text x="209.00" y="260.40" font-family='"Liberation Sans", sans-serif' font-size="8.7" font-weight="normal" text-anchor="start" fill="#111" textLength="30.00" lengthAdjust="spacingAndGlyphs" stroke="#111" stroke-width="0.12">no tannin</text>
<text x="209.00" y="273.60" font-family='"Liberation Sans", sans-serif' font-size="8.7" font-weight="normal" text-anchor="start" fill="#111" textLength="20.00" lengthAdjust="spacingAndGlyphs" stroke="#111" stroke-width="0.12">tannin</text>
<line x1="335.40" y1="222.70" x2="461.50" y2="222.70" stroke="#8c8c8c" stroke-width="0.6" />
<line x1="335.40" y1="222.35" x2="335.40" y2="231.40" stroke="#8c8c8c" stroke-width="0.6" />
<line x1="370.40" y1="222.35" x2="370.40" y2="231.40" stroke="#8c8c8c" stroke-width="0.6" />
<line x1="398.20" y1="222.35" x2="398.20" y2="231.40" stroke="#8c8c8c" stroke-width="0.6" />
<line x1="430.50" y1="222.35" x2="430.50" y2="231.40" stroke="#8c8c8c" stroke-width="0.6" />
<line x1="461.50" y1="222.35" x2="461.50" y2="231.40" stroke="#8c8c8c" stroke-width="0.6" />
<line x1="350.45" y1="234.60" x2="473.35" y2="234.60" stroke="#333333" stroke-width="0.85" />
<line x1="350.90" y1="234.60" x2="350.90" y2="241.20" stroke="#333333" stroke-width="0.85" />
<line x1="382.30" y1="234.60" x2="382.30" y2="241.20" stroke="#333333" stroke-width="0.85" />
<line x1="411.30" y1="234.60" x2="411.30" y2="241.20" stroke="#333333" stroke-width="0.85" />
<line x1="445.30" y1="234.60" x2="445.30" y2="241.20" stroke="#333333" stroke-width="0.85" />
<line x1="472.90" y1="234.60" x2="472.90" y2="241.20" stroke="#333333" stroke-width="0.85" />
<text x="376.80" y="222.50" font-family='"Liberation Serif", serif' font-size="7.2" font-weight="normal" text-anchor="start" fill="#111" textLength="22.00" lengthAdjust="spacingAndGlyphs" stroke="#111" stroke-width="0.12">P&gt;0.0001</text>
<text x="404.30" y="234.40" font-family='"Liberation Serif", serif' font-size="7.2" font-weight="normal" text-anchor="start" fill="#111" textLength="22.50" lengthAdjust="spacingAndGlyphs" stroke="#111" stroke-width="0.12">P=0.4832</text>
<rect x="337.30" y="264.20" width="9.30" height="102.90" fill="#e2e2e2" stroke="#4a4a4a" stroke-width="0.9"/>
<line x1="341.95" y1="257.60" x2="341.95" y2="264.20" stroke="#3c3c3c" stroke-width="0.8" />
<line x1="339.15" y1="257.60" x2="344.75" y2="257.60" stroke="#3c3c3c" stroke-width="0.9" />
<rect x="347.50" y="333.10" width="9.90" height="34.00" fill="#000"/>
<line x1="353.00" y1="325.70" x2="353.00" y2="333.10" stroke="#3c3c3c" stroke-width="0.8" />
<line x1="350.20" y1="325.70" x2="355.80" y2="325.70" stroke="#3c3c3c" stroke-width="0.9" />
<line x1="341.70" y1="250.80" x2="341.70" y2="255.40" stroke="#3a3a3a" stroke-width="0.95" stroke-dasharray="1.9 1.0"/>
<line x1="353.50" y1="250.80" x2="353.50" y2="320.90" stroke="#3a3a3a" stroke-width="0.95" stroke-dasharray="1.9 1.0"/>
<line x1="341.30" y1="250.80" x2="353.90" y2="250.80" stroke="#2e2e2e" stroke-width="1.0" stroke-dasharray="2.1 0.7"/>
<text x="337.20" y="250.00" font-family='"Liberation Serif", serif' font-size="7.2" font-weight="normal" text-anchor="start" fill="#111" textLength="22.00" lengthAdjust="spacingAndGlyphs" stroke="#111" stroke-width="0.12">P&gt;0.0001</text>
<rect x="366.60" y="314.40" width="9.30" height="52.70" fill="#e2e2e2" stroke="#4a4a4a" stroke-width="0.9"/>
<line x1="371.25" y1="307.40" x2="371.25" y2="314.40" stroke="#3c3c3c" stroke-width="0.8" />
<line x1="368.45" y1="307.40" x2="374.05" y2="307.40" stroke="#3c3c3c" stroke-width="0.9" />
<rect x="376.80" y="343.10" width="9.90" height="24.00" fill="#000"/>
<line x1="382.30" y1="336.20" x2="382.30" y2="343.10" stroke="#3c3c3c" stroke-width="0.8" />
<line x1="379.50" y1="336.20" x2="385.10" y2="336.20" stroke="#3c3c3c" stroke-width="0.9" />
<line x1="370.40" y1="297.90" x2="370.40" y2="305.20" stroke="#3a3a3a" stroke-width="0.95" stroke-dasharray="1.9 1.0"/>
<line x1="382.70" y1="297.90" x2="382.70" y2="332.60" stroke="#3a3a3a" stroke-width="0.95" stroke-dasharray="1.9 1.0"/>
<line x1="370.00" y1="297.90" x2="383.10" y2="297.90" stroke="#2e2e2e" stroke-width="1.0" stroke-dasharray="2.1 0.7"/>
<text x="365.70" y="297.10" font-family='"Liberation Serif", serif' font-size="7.2" font-weight="normal" text-anchor="start" fill="#111" textLength="22.90" lengthAdjust="spacingAndGlyphs" stroke="#111" stroke-width="0.12">P=0.0040</text>
<rect x="396.30" y="304.40" width="9.30" height="62.70" fill="#e2e2e2" stroke="#4a4a4a" stroke-width="0.9"/>
<line x1="400.95" y1="297.80" x2="400.95" y2="304.40" stroke="#3c3c3c" stroke-width="0.8" />
<line x1="398.15" y1="297.80" x2="403.75" y2="297.80" stroke="#3c3c3c" stroke-width="0.9" />
<rect x="406.50" y="337.30" width="9.90" height="29.80" fill="#000"/>
<line x1="412.00" y1="330.30" x2="412.00" y2="337.30" stroke="#3c3c3c" stroke-width="0.8" />
<line x1="409.20" y1="330.30" x2="414.80" y2="330.30" stroke="#3c3c3c" stroke-width="0.9" />
<line x1="400.80" y1="284.30" x2="400.80" y2="295.60" stroke="#3a3a3a" stroke-width="0.95" stroke-dasharray="1.9 1.0"/>
<line x1="411.60" y1="284.30" x2="411.60" y2="326.50" stroke="#3a3a3a" stroke-width="0.95" stroke-dasharray="1.9 1.0"/>
<line x1="400.40" y1="284.30" x2="412.00" y2="284.30" stroke="#2e2e2e" stroke-width="1.0" stroke-dasharray="2.1 0.7"/>
<text x="395.60" y="283.50" font-family='"Liberation Serif", serif' font-size="7.2" font-weight="normal" text-anchor="start" fill="#111" textLength="22.30" lengthAdjust="spacingAndGlyphs" stroke="#111" stroke-width="0.12">P=0.0011</text>
<rect x="425.70" y="261.40" width="9.30" height="105.70" fill="#e2e2e2" stroke="#4a4a4a" stroke-width="0.9"/>
<line x1="430.35" y1="254.30" x2="430.35" y2="261.40" stroke="#3c3c3c" stroke-width="0.8" />
<line x1="427.55" y1="254.30" x2="433.15" y2="254.30" stroke="#3c3c3c" stroke-width="0.9" />
<rect x="435.90" y="337.90" width="9.90" height="29.20" fill="#000"/>
<line x1="441.40" y1="331.20" x2="441.40" y2="337.90" stroke="#3c3c3c" stroke-width="0.8" />
<line x1="438.60" y1="331.20" x2="444.20" y2="331.20" stroke="#3c3c3c" stroke-width="0.9" />
<line x1="429.80" y1="249.60" x2="429.80" y2="252.10" stroke="#3a3a3a" stroke-width="0.95" stroke-dasharray="1.9 1.0"/>
<line x1="441.00" y1="249.60" x2="441.00" y2="326.70" stroke="#3a3a3a" stroke-width="0.95" stroke-dasharray="1.9 1.0"/>
<line x1="429.40" y1="249.60" x2="441.40" y2="249.60" stroke="#2e2e2e" stroke-width="1.0" stroke-dasharray="2.1 0.7"/>
<text x="422.90" y="248.80" font-family='"Liberation Serif", serif' font-size="7.2" font-weight="normal" text-anchor="start" fill="#111" textLength="21.50" lengthAdjust="spacingAndGlyphs" stroke="#111" stroke-width="0.12">P&gt;0.0001</text>
<rect x="455.50" y="282.30" width="9.30" height="84.80" fill="#e2e2e2" stroke="#4a4a4a" stroke-width="0.9"/>
<line x1="460.15" y1="275.90" x2="460.15" y2="282.30" stroke="#3c3c3c" stroke-width="0.8" />
<line x1="457.35" y1="275.90" x2="462.95" y2="275.90" stroke="#3c3c3c" stroke-width="0.9" />
<rect x="465.70" y="326.10" width="9.90" height="41.00" fill="#000"/>
<line x1="471.20" y1="319.30" x2="471.20" y2="326.10" stroke="#3c3c3c" stroke-width="0.8" />
<line x1="468.40" y1="319.30" x2="474.00" y2="319.30" stroke="#3c3c3c" stroke-width="0.9" />
<line x1="459.80" y1="260.00" x2="459.80" y2="273.70" stroke="#3a3a3a" stroke-width="0.95" stroke-dasharray="1.9 1.0"/>
<line x1="470.90" y1="260.00" x2="470.90" y2="315.90" stroke="#3a3a3a" stroke-width="0.95" stroke-dasharray="1.9 1.0"/>
<line x1="459.40" y1="260.00" x2="471.30" y2="260.00" stroke="#2e2e2e" stroke-width="1.0" stroke-dasharray="2.1 0.7"/>
<text x="455.10" y="259.20" font-family='"Liberation Serif", serif' font-size="7.2" font-weight="normal" text-anchor="start" fill="#111" textLength="22.00" lengthAdjust="spacingAndGlyphs" stroke="#111" stroke-width="0.12">P&gt;0.0001</text>
<line x1="332.50" y1="252.30" x2="332.50" y2="367.50" stroke="#3c3c3c" stroke-width="0.85" />
<line x1="330.10" y1="367.40" x2="480.00" y2="367.40" stroke="#3c3c3c" stroke-width="1.05" />
<line x1="329.70" y1="252.70" x2="332.50" y2="252.70" stroke="#3c3c3c" stroke-width="0.85" />
<text x="329.30" y="256.00" font-family='"Liberation Serif", serif' font-size="10" font-weight="normal" text-anchor="end" fill="#111" textLength="11.20" lengthAdjust="spacingAndGlyphs" stroke="#111" stroke-width="0.06">1.5</text>
<line x1="329.70" y1="290.83" x2="332.50" y2="290.83" stroke="#3c3c3c" stroke-width="0.85" />
<text x="329.30" y="294.13" font-family='"Liberation Serif", serif' font-size="10" font-weight="normal" text-anchor="end" fill="#111" textLength="11.20" lengthAdjust="spacingAndGlyphs" stroke="#111" stroke-width="0.06">1.0</text>
<line x1="329.70" y1="328.97" x2="332.50" y2="328.97" stroke="#3c3c3c" stroke-width="0.85" />
<text x="329.30" y="332.27" font-family='"Liberation Serif", serif' font-size="10" font-weight="normal" text-anchor="end" fill="#111" textLength="11.20" lengthAdjust="spacingAndGlyphs" stroke="#111" stroke-width="0.06">0.5</text>
<line x1="329.70" y1="367.10" x2="332.50" y2="367.10" stroke="#3c3c3c" stroke-width="0.85" />
<text x="329.30" y="370.40" font-family='"Liberation Serif", serif' font-size="10" font-weight="normal" text-anchor="end" fill="#111" textLength="11.20" lengthAdjust="spacingAndGlyphs" stroke="#111" stroke-width="0.06">0.0</text>
<line x1="347.20" y1="367.10" x2="347.20" y2="370.40" stroke="#3c3c3c" stroke-width="0.9" />
<text x="347.60" y="379.60" font-family='"Liberation Serif", serif' font-size="10.0" font-weight="normal" text-anchor="middle" fill="#111" textLength="27.40" lengthAdjust="spacingAndGlyphs" stroke="#111" stroke-width="0.12">buffalo</text>
<line x1="376.50" y1="367.10" x2="376.50" y2="370.40" stroke="#3c3c3c" stroke-width="0.9" />
<text x="376.80" y="379.60" font-family='"Liberation Serif", serif' font-size="10.0" font-weight="normal" text-anchor="middle" fill="#111" textLength="16.80" lengthAdjust="spacingAndGlyphs" stroke="#111" stroke-width="0.12">goat</text>
<line x1="406.20" y1="367.10" x2="406.20" y2="370.40" stroke="#3c3c3c" stroke-width="0.9" />
<text x="406.40" y="379.60" font-family='"Liberation Serif", serif' font-size="10.0" font-weight="normal" text-anchor="middle" fill="#111" textLength="21.80" lengthAdjust="spacingAndGlyphs" stroke="#111" stroke-width="0.12">sheep</text>
<line x1="435.60" y1="367.10" x2="435.60" y2="370.40" stroke="#3c3c3c" stroke-width="0.9" />
<text x="434.75" y="379.60" font-family='"Liberation Serif", serif' font-size="10.0" font-weight="normal" text-anchor="middle" fill="#111" textLength="26.60" lengthAdjust="spacingAndGlyphs" stroke="#111" stroke-width="0.12">taurine</text>
<line x1="465.40" y1="367.10" x2="465.40" y2="370.40" stroke="#3c3c3c" stroke-width="0.9" />
<text x="464.15" y="379.60" font-family='"Liberation Serif", serif' font-size="10.0" font-weight="normal" text-anchor="middle" fill="#111" textLength="18.40" lengthAdjust="spacingAndGlyphs" stroke="#111" stroke-width="0.12">zebu</text>
<text transform="translate(314.50 366.30) rotate(-90) scale(1 0.88)" x="0" y="0" font-family='"Liberation Serif", serif' font-size="10" font-weight="bold" fill="#111" textLength="83.70" lengthAdjust="spacingAndGlyphs">Butyric acid (mmol/g</text>
<text transform="translate(314.50 280.60) rotate(-90) scale(1 0.88)" x="0" y="0" font-family='"Liberation Serif", serif' font-size="10" font-weight="bold" fill="#111" textLength="26.3" lengthAdjust="spacingAndGlyphs">OMD)</text>
<rect x="490.50" y="257.80" width="13.70" height="5.40" fill="#e2e2e2" stroke="#4a4a4a" stroke-width="0.9"/>
<rect x="490.10" y="270.80" width="14.50" height="6.10" fill="#000"/>
<text x="506.90" y="263.70" font-family='"Liberation Sans", sans-serif' font-size="8.7" font-weight="normal" text-anchor="start" fill="#111" textLength="30.00" lengthAdjust="spacingAndGlyphs" stroke="#111" stroke-width="0.12">no tannin</text>
<text x="506.90" y="277.10" font-family='"Liberation Sans", sans-serif' font-size="8.7" font-weight="normal" text-anchor="start" fill="#111" textLength="20.00" lengthAdjust="spacingAndGlyphs" stroke="#111" stroke-width="0.12">tannin</text>
</svg>
</body></html>
